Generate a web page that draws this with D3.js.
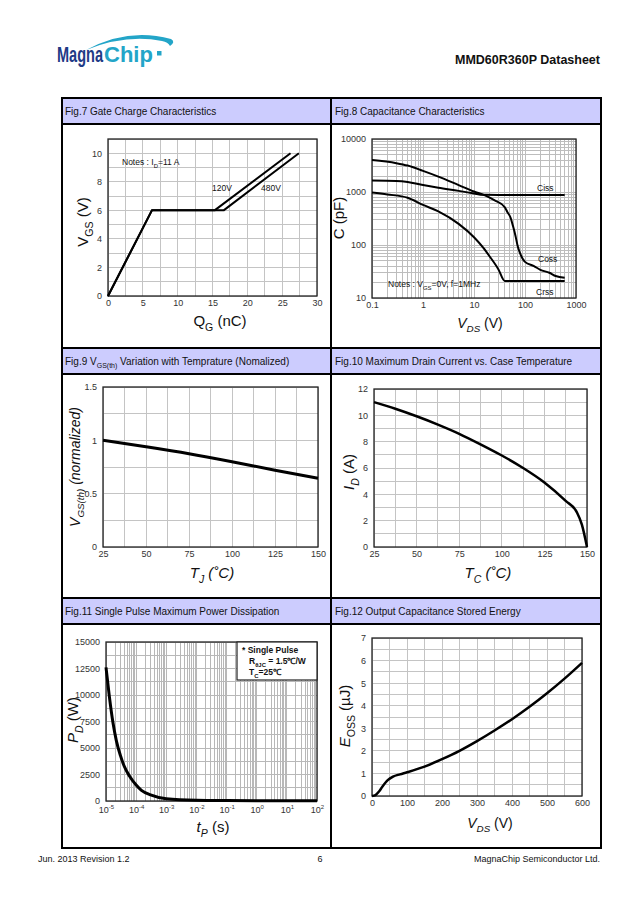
<!DOCTYPE html>
<html><head><meta charset="utf-8">
<script src="https://cdn.jsdelivr.net/npm/d3@7"></script>
<style>
body{margin:0;background:#fff;}
svg{display:block;font-family:"Liberation Sans",Arial,sans-serif;}
</style></head>
<body>
<svg id="page" width="638" height="902"></svg>
<script>
// ---------- DATA ----------
// Fig.7 Gate charge
const qg120 = [0, 6.3, 15.3, 26.2];
const vgs120 = [0, 6, 6, 10];
const qg480 = [0, 6.3, 16.6, 27.4];
const vgs480 = [0, 6, 6, 10];
const fig7XTicks = [0, 5, 10, 15, 20, 25, 30];
const fig7YTicks = [0, 2, 4, 6, 8, 10];

// Fig.8 Capacitance
const cossV = [0.1, 0.3, 0.5, 1, 2, 5, 10, 16, 25, 40, 45, 52, 58, 65, 72, 80, 100, 150, 200, 300, 400, 600];
const cossC = [4000, 3500, 3150, 2500, 1950, 1350, 1020, 870, 700, 520, 420, 330, 230, 150, 95, 70, 48, 40, 34, 30, 26, 24];
const cissV = [0.1, 0.3, 0.5, 1, 2, 5, 10, 15, 30, 100, 600];
const cissC = [1650, 1620, 1550, 1350, 1200, 1050, 940, 885, 880, 880, 880];
const crssV = [0.1, 0.2, 0.5, 1, 2, 5, 10, 15, 20, 30, 40, 100, 600];
const crssC = [980, 900, 780, 570, 430, 250, 140, 90, 62, 35, 21, 21, 21];
const fig8XTicks = [0.1, 1, 10, 100, 1000];
const fig8YTicks = [10, 100, 1000, 10000];

// Fig.9 VGS(th) vs temperature
const tj = [25, 50, 75, 100, 125, 150];
const vthNorm = [1.0, 0.94, 0.875, 0.8, 0.72, 0.645];
const fig9XTicks = [25, 50, 75, 100, 125, 150];
const fig9YTicks = [0, 0.5, 1, 1.5];

// Fig.10 Max drain current vs case temperature
const tc = [25, 37.5, 50, 62.5, 75, 87.5, 100, 112.5, 125, 137.5, 144, 147, 150];
const idMax = [11.0, 10.5, 9.93, 9.3, 8.6, 7.8, 6.95, 6.0, 4.9, 3.5, 2.65, 1.7, 0];
const fig10XTicks = [25, 50, 75, 100, 125, 150];
const fig10YTicks = [0, 2, 4, 6, 8, 10, 12];

// Fig.11 Single pulse power
const tp = [1e-5, 1.3e-5, 1.7e-5, 2.2e-5, 3e-5, 4e-5, 6e-5, 1e-4, 1.5e-4, 3e-4, 1e-3, 1e-2, 1e-1, 1, 10, 100];
const pd = [12600, 9800, 7400, 5700, 4300, 3300, 2350, 1500, 1000, 580, 220, 70, 40, 30, 25, 20];
const fig11XTicks = [1e-5, 1e-4, 1e-3, 1e-2, 1e-1, 1, 10, 100];
const fig11YTicks = [0, 2500, 5000, 7500, 10000, 12500, 15000];

// Fig.12 Eoss
const vds12 = [0, 10, 20, 30, 45, 60, 80, 100, 150, 200, 250, 300, 350, 400, 450, 500, 550, 600];
const eoss = [0, 0.04, 0.2, 0.42, 0.7, 0.86, 0.96, 1.05, 1.3, 1.63, 2.0, 2.43, 2.9, 3.4, 3.95, 4.55, 5.2, 5.9];
const fig12XTicks = [0, 100, 200, 300, 400, 500, 600];
const fig12YTicks = [0, 1, 2, 3, 4, 5, 6, 7];

// ---------- HELPERS ----------
const svg = d3.select("#page");
const FONT = "Liberation Sans, Arial, sans-serif";
const GRID = "#c4c4c4";

function rich(sel, parts, size) {
  let shift = 0;
  parts.forEach(([s, k]) => {
    const ts = sel.append("tspan").text(s);
    const small = k.includes("sub") || k.includes("sup");
    const target = k.includes("sub") ? size * 0.3 : (k.includes("sup") ? -size * 0.4 : 0);
    if (target - shift !== 0) ts.attr("dy", target - shift);
    shift = target;
    if (small) ts.attr("font-size", size * 0.7);
    if (k.includes("i")) ts.attr("font-style", "italic");
  });
  if (shift !== 0) sel.append("tspan").attr("dy", -shift).text("\u200B");
  return sel;
}
function label(x, y, parts, size, opts = {}) {
  const t = svg.append("text").attr("x", x).attr("y", y)
    .attr("font-size", size).attr("fill", opts.fill || "#111")
    .attr("text-anchor", opts.anchor || "start");
  if (opts.weight) t.attr("font-weight", opts.weight);
  if (opts.rotate) t.attr("transform", `rotate(-90,${x},${y})`);
  return rich(t, parts, size);
}

function frame(xs, ys, xGrid, yGrid, xTicks, yTicks, xFmt, yFmt, opts = {}) {
  const g = svg.append("g");
  const [xa, xb] = xs.range(), [yb, ya] = ys.range();
  g.selectAll(".vg").data(xGrid).join("line")
    .attr("x1", d => xs(d)).attr("x2", d => xs(d)).attr("y1", ya).attr("y2", yb)
    .attr("stroke", opts.gridColor || GRID).attr("stroke-width", 1).attr("shape-rendering", "crispEdges");
  g.selectAll(".hg").data(yGrid).join("line")
    .attr("x1", xa).attr("x2", xb).attr("y1", d => ys(d)).attr("y2", d => ys(d))
    .attr("stroke", opts.gridColor || GRID).attr("stroke-width", 1).attr("shape-rendering", "crispEdges");
  g.append("rect").attr("x", xa).attr("y", ya).attr("width", xb - xa).attr("height", yb - ya)
    .attr("fill", "none").attr("stroke", "#222").attr("stroke-width", 1.3);
  const ax = g.append("g").attr("transform", `translate(0,${yb})`)
    .call(d3.axisBottom(xs).tickValues(xTicks).tickSize(0).tickPadding(opts.xPad || 4).tickFormat(xFmt));
  const ay = g.append("g").attr("transform", `translate(${xa},0)`)
    .call(d3.axisLeft(ys).tickValues(yTicks).tickSize(0).tickPadding(opts.yPad || 6).tickFormat(yFmt));
  [ax, ay].forEach(a => {
    a.select(".domain").remove();
    a.attr("font-family", FONT).attr("font-size", 9).selectAll("text").attr("fill", "#333");
  });
  return {g, ax, ay};
}
function curve(xs, ys, X, Y, width, c) {
  const pts = X.map((x, i) => [x, Y[i]]);
  svg.append("path").datum(pts)
    .attr("d", d3.line().x(d => xs(d[0])).y(d => ys(d[1])).curve(c || d3.curveLinear))
    .attr("fill", "none").attr("stroke", "#000").attr("stroke-width", width || 2)
    .attr("stroke-linejoin", "round");
}
const range = (a, b, s) => d3.range(a, b + s / 2, s);
const logMinor = (a, b) => { const r = []; for (let e = a; e < b; e++) for (let m = 1; m < 10; m++) r.push(m * Math.pow(10, e)); r.push(Math.pow(10, b)); return r; };

// ---------- PAGE HEADER ----------
svg.append("path")
  .attr("d", "M86,50 Q128,27 171,39 Q176,42 170,46 Q168,42 162,41 Q126,34 86,50 Z")
  .attr("fill", "#23a5c8");
svg.append("text").attr("transform", "translate(57,62) scale(0.66,1)")
  .attr("font-weight", "bold").attr("font-size", 22).attr("fill", "#1f3b86").text("Magna");
svg.append("text").attr("transform", "translate(104,62) scale(1.0,1)")
  .attr("font-weight", "bold").attr("font-size", 22).attr("fill", "#23a5c8").text("Chip");
svg.append("rect").attr("x", 157).attr("y", 51).attr("width", 4.5).attr("height", 4.5).attr("fill", "#23a5c8");
svg.append("text").attr("x", 600).attr("y", 64).attr("text-anchor", "end").attr("font-size", 12.5)
  .attr("font-weight", "bold").attr("fill", "#111").text("MMD60R360P Datasheet");

// ---------- TABLE ----------
const TL = 62, TR = 601, TT = 98, TB = 848, TM = 331;
const bands = [[98, 124], [348, 374], [598, 624]];
bands.forEach(([a, b]) => svg.append("rect").attr("x", TL).attr("y", a).attr("width", TR - TL).attr("height", b - a).attr("fill", "#ccccfe"));
svg.append("rect").attr("x", TL).attr("y", TT).attr("width", TR - TL).attr("height", TB - TT).attr("fill", "none").attr("stroke", "#000").attr("stroke-width", 2);
svg.append("line").attr("x1", TM).attr("x2", TM).attr("y1", TT).attr("y2", TB).attr("stroke", "#000").attr("stroke-width", 2);
[124, 348, 374, 598, 624].forEach(y => svg.append("line").attr("x1", TL).attr("x2", TR).attr("y1", y).attr("y2", y).attr("stroke", "#000").attr("stroke-width", 2));

label(65, 115, [["Fig.7 Gate Charge Characteristics", "n"]], 10);
label(335, 115, [["Fig.8 Capacitance Characteristics", "n"]], 10);
label(65, 365, [["Fig.9 V", "n"], ["GS(th)", "sub"], [" Variation with Temprature (Nomalized)", "n"]], 10);
label(335, 365, [["Fig.10 Maximum Drain Current vs. Case Temperature", "n"]], 10);
label(65, 615, [["Fig.11 Single Pulse Maximum Power Dissipation", "n"]], 10);
label(335, 615, [["Fig.12 Output Capacitance Stored Energy", "n"]], 10);

// ---------- FIG 7 ----------
{
  const xs = d3.scaleLinear().domain([0, 30]).range([108, 317]);
  const ys = d3.scaleLinear().domain([0, 11]).range([296, 139]);
  frame(xs, ys, range(0, 30, 2.5), range(0, 11, 1), fig7XTicks, fig7YTicks, d3.format("d"), d3.format("d"));
  curve(xs, ys, qg120, vgs120, 2);
  curve(xs, ys, qg480, vgs480, 2);
  label(122, 165, [["Notes : I", "n"], ["D", "sub"], ["=11 A", "n"]], 8.5);
  label(212, 191, [["120V", "n"]], 8.5);
  label(261, 191, [["480V", "n"]], 8.5);
  label(88, 222, [["V", "n"], ["GS", "sub"], [" (V)", "n"]], 15, {anchor: "middle", rotate: true});
  label(220, 326, [["Q", "n"], ["G", "sub"], [" (nC)", "n"]], 15, {anchor: "middle"});
}

// ---------- FIG 8 ----------
{
  const xs = d3.scaleLog().domain([0.1, 1000]).range([372, 576]);
  const ys = d3.scaleLog().domain([10, 10000]).range([298, 139]);
  frame(xs, ys, logMinor(-1, 3), logMinor(1, 4), fig8XTicks, fig8YTicks, d => String(d), d => String(d), {gridColor: "#bdbdbd"});
  curve(xs, ys, cossV, cossC, 2, d3.curveMonotoneX);
  curve(xs, ys, cissV, cissC, 2, d3.curveMonotoneX);
  curve(xs, ys, crssV, crssC, 2, d3.curveMonotoneX);
  label(537, 191, [["Ciss", "n"]], 8.5);
  label(538, 262, [["Coss", "n"]], 8.5);
  label(536, 295, [["Crss", "n"]], 8.5);
  label(388, 287, [["Notes : V", "n"], ["GS", "sub"], ["=0V, f=1MHz", "n"]], 8.5);
  label(344, 218, [["C (pF)", "n"]], 15, {anchor: "middle", rotate: true});
  label(480, 328, [["V", "i"], ["DS", "isub"], [" (V)", "n"]], 14, {anchor: "middle"});
}

// ---------- FIG 9 ----------
{
  const xs = d3.scaleLinear().domain([25, 150]).range([103, 318]);
  const ys = d3.scaleLinear().domain([0, 1.5]).range([547, 387]);
  frame(xs, ys, range(25, 150, 12.5), range(0, 1.5, 0.25), fig9XTicks, fig9YTicks, d3.format("d"), d => String(d));
  curve(xs, ys, tj, vthNorm, 3, d3.curveMonotoneX);
  label(80, 467, [["V", "i"], ["GS(th)", "isub"], [" (normalized)", "i"]], 14, {anchor: "middle", rotate: true});
  label(212, 578, [["T", "i"], ["J", "isub"], [" (˚C)", "i"]], 15, {anchor: "middle"});
}

// ---------- FIG 10 ----------
{
  const xs = d3.scaleLinear().domain([25, 150]).range([374, 587]);
  const ys = d3.scaleLinear().domain([0, 12]).range([547, 389]);
  frame(xs, ys, range(25, 150, 12.5), range(0, 12, 1), fig10XTicks, fig10YTicks, d3.format("d"), d3.format("d"));
  curve(xs, ys, tc, idMax, 2.5, d3.curveMonotoneX);
  label(354, 472, [["I", "i"], ["D", "isub"], [" (A)", "n"]], 15, {anchor: "middle", rotate: true});
  label(488, 578, [["T", "i"], ["C", "isub"], [" (˚C)", "i"]], 15, {anchor: "middle"});
}

// ---------- FIG 11 ----------
{
  const xs = d3.scaleLog().domain([1e-5, 100]).range([106, 317]);
  const ys = d3.scaleLinear().domain([0, 15000]).range([801, 642]);
  const f = frame(xs, ys, logMinor(-5, 2), range(0, 15000, 1250), fig11XTicks, fig11YTicks, () => "", d => String(d), {gridColor: "#b8b8b8", xPad: 6});
  f.ax.selectAll(".tick text").each(function (d) {
    const t = d3.select(this);
    t.text("10");
    t.append("tspan").attr("dy", -4).attr("font-size", 6).text(Math.round(Math.log10(d)));
  });
  curve(xs, ys, tp, pd, 3, d3.curveMonotoneX);
  svg.append("rect").attr("x", 237).attr("y", 642).attr("width", 80).attr("height", 38)
    .attr("fill", "#fff").attr("stroke", "#222").attr("stroke-width", 1.2);
  label(242, 653, [["* Single Pulse", "n"]], 8.5, {weight: "bold"});
  label(249, 664, [["R", "n"], ["θJC", "sub"], [" = 1.5℃/W", "n"]], 8.5, {weight: "bold"});
  label(249, 675, [["T", "n"], ["C", "sub"], ["=25℃", "n"]], 8.5, {weight: "bold"});
  label(78, 720, [["P", "i"], ["D", "isub"], [" (W)", "n"]], 15, {anchor: "middle", rotate: true});
  label(213, 832, [["t", "i"], ["P", "isub"], [" (s)", "n"]], 15, {anchor: "middle"});
}

// ---------- FIG 12 ----------
{
  const xs = d3.scaleLinear().domain([0, 600]).range([372, 582]);
  const ys = d3.scaleLinear().domain([0, 7]).range([796, 638]);
  frame(xs, ys, range(0, 600, 50), range(0, 7, 0.5), fig12XTicks, fig12YTicks, d3.format("d"), d3.format("d"));
  curve(xs, ys, vds12, eoss, 2.5, d3.curveMonotoneX);
  label(350, 716, [["E", "i"], ["OSS", "sub"], [" (µJ)", "n"]], 15, {anchor: "middle", rotate: true});
  label(490, 828, [["V", "i"], ["DS", "isub"], [" (V)", "n"]], 14, {anchor: "middle"});
}

// ---------- FOOTER ----------
label(38, 862, [["Jun. 2013 Revision 1.2", "n"]], 9);
label(320, 862, [["6", "n"]], 9, {anchor: "middle"});
label(600, 862, [["MagnaChip Semiconductor Ltd.", "n"]], 9, {anchor: "end"});
</script>
</body></html>
